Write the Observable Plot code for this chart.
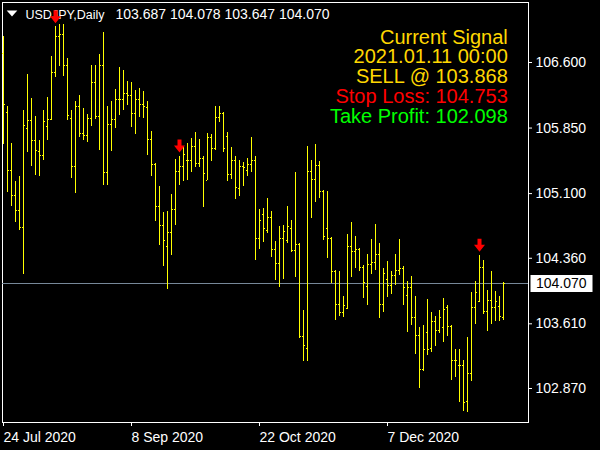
<!DOCTYPE html>
<html><head><meta charset="utf-8">
<script src="https://cdn.jsdelivr.net/npm/d3@7"></script>
<script src="https://cdn.jsdelivr.net/npm/@observablehq/plot@0.6"></script>
<style>html,body{margin:0;padding:0;background:#000;overflow:hidden;} svg{display:block;}</style>
</head><body><div id="chart"></div>
<script>
// Daily USDJPY OHLC bars (bar 0 = 24 Jul 2020)
const opens = [106.700,106.030,105.369,105.083,104.911,104.713,105.850,105.942,105.713,105.580,
105.541,105.865,105.953,106.484,106.896,106.915,106.571,105.961,105.415,106.094,
105.789,105.770,105.961,106.369,105.980,106.560,105.343,105.892,105.949,106.178,
106.178,106.247,106.228,106.018,106.171,106.125,106.090,105.720,105.438,104.950,
104.740,104.492,104.652,104.919,105.358,105.408,105.476,105.476,105.637,105.446,
105.503,105.255,105.743,105.618,105.972,106.018,105.751,105.324,105.473,105.160,
105.415,105.370,105.438,105.484,104.587,104.866,104.683,104.827,104.465,104.301,
104.587,104.568,104.701,104.454,104.519,103.461,103.328,105.350,105.262,105.426,
105.121,104.701,104.587,104.205,103.831,103.736,103.785,104.491,104.442,104.461,
104.255,104.042,104.290,104.312,104.408,103.835,104.118,104.045,104.160,104.225,
104.244,103.938,104.026,103.683,103.473,103.087,103.511,103.328,103.633,103.538,
103.564,103.793,103.576,103.194,103.137,103.137,102.717,103.042,103.797,103.862,
104.255,103.755,103.881,103.797,103.812,103.687];
const highs = [106.896,106.102,105.675,105.236,105.293,106.056,106.468,106.190,105.980,105.705,
106.056,106.201,106.674,107.010,107.037,107.037,106.648,106.056,106.152,106.217,
106.075,106.000,106.571,106.560,106.697,106.938,106.095,106.152,106.293,106.545,
106.503,106.388,106.373,106.274,106.297,106.266,106.152,105.816,105.450,105.179,
104.881,104.892,105.091,105.495,105.530,105.644,105.675,105.732,105.801,105.720,
105.530,105.789,105.778,106.102,106.102,106.030,105.797,105.629,105.522,105.476,
105.453,105.503,105.743,105.522,104.923,104.934,105.045,104.892,104.556,104.728,
104.739,104.950,104.797,105.339,104.530,103.766,105.644,105.484,105.667,105.472,
105.130,105.129,104.600,104.220,104.213,103.919,104.636,104.766,104.606,104.470,
104.282,104.408,104.580,104.751,104.530,104.244,104.320,104.206,104.408,104.580,
104.270,104.099,104.156,103.919,103.565,103.595,103.893,103.736,103.698,103.766,
103.900,103.824,103.595,103.320,103.320,103.194,103.450,103.965,104.091,104.396,
104.331,103.995,104.205,103.976,103.927,104.078];
const lows = [105.667,105.110,104.950,104.766,104.682,104.179,105.568,105.415,105.312,105.293,
105.476,105.705,105.940,106.430,106.552,106.445,105.934,105.274,105.102,105.743,
105.713,105.682,105.865,105.949,105.591,105.190,105.190,105.579,105.846,105.988,
106.049,106.113,105.854,105.781,105.968,105.961,105.541,105.293,104.785,104.511,
104.263,104.003,104.396,104.740,105.198,105.236,105.255,105.339,105.400,105.400,
104.942,105.255,105.465,105.591,105.911,105.568,105.236,105.263,105.034,105.064,
105.179,105.293,105.339,104.331,104.465,104.538,104.644,104.366,104.102,104.026,
104.118,104.530,104.423,104.137,103.442,103.175,103.175,104.816,104.995,105.045,
104.560,104.358,104.072,103.644,103.690,103.682,103.778,104.137,104.244,104.206,
103.900,103.816,104.175,104.217,103.671,103.740,103.912,103.946,104.045,104.167,
103.816,103.507,103.595,103.259,102.870,103.061,103.244,103.282,103.347,103.499,
103.397,103.461,102.958,102.996,102.710,102.603,102.591,102.946,103.602,103.855,
103.717,103.519,103.606,103.633,103.633,103.647];
const closes = [106.121,105.369,105.083,104.911,104.713,105.880,105.942,105.713,105.591,105.541,
105.923,105.953,106.484,106.896,106.915,106.571,105.988,105.415,106.094,105.789,
105.770,105.961,106.369,105.980,106.560,105.343,105.892,105.949,106.178,106.178,
106.247,106.228,106.018,106.171,106.125,106.100,105.720,105.438,104.950,104.740,
104.568,104.652,104.919,105.358,105.408,105.553,105.476,105.637,105.446,105.503,
105.331,105.743,105.618,105.972,106.018,105.618,105.324,105.473,105.171,105.415,
105.396,105.438,105.484,104.587,104.797,104.702,104.827,104.465,104.301,104.587,
104.671,104.720,104.454,104.519,103.461,103.366,105.350,105.262,105.426,105.121,
104.613,104.587,104.205,103.831,103.736,103.816,104.491,104.434,104.461,104.255,
104.083,104.290,104.312,104.408,103.835,104.187,104.045,104.160,104.225,104.244,
104.026,104.026,103.683,103.473,103.087,103.316,103.316,103.633,103.538,103.679,
103.778,103.576,103.194,103.194,103.137,102.706,103.042,103.797,103.969,104.255,
103.755,103.881,103.797,103.862,103.698,104.070];

const signalBars = [13, 44, 119];              // sell-signal arrows
const dateTickBars = [0, 32, 64, 96];
const dateTickLabels = ["24 Jul 2020", "8 Sep 2020", "22 Oct 2020", "7 Dec 2020"];
const priceTicks = [106.600, 105.850, 105.100, 104.360, 103.610, 102.870];
const symbolName = "USDJPY,Daily";
const signalLines = ["Current Signal", "2021.01.11 00:00", "SELL @ 103.868", "Stop Loss: 104.753", "Take Profit: 102.098"];
const signalColors = ["#FFD700", "#FFD700", "#FFD700", "#FF0000", "#00FF00"];

const bars = opens.map((o, i) => ({i, open: o, high: highs[i], low: lows[i], close: closes[i]}));
const last = bars[bars.length - 1];
const fmt3 = d3.format(".3f");
const headerValues = [last.open, last.high, last.low, last.close].map(fmt3).join(" ");

const arrowDown = {draw(c) {
  c.moveTo(-2, -6.5); c.lineTo(2, -6.5); c.lineTo(2, -0.5); c.lineTo(5.5, -0.5);
  c.lineTo(0, 6.5); c.lineTo(-5.5, -0.5); c.lineTo(-2, -0.5); c.closePath();
}};
const triangleDown = {draw(c) { c.moveTo(-5.3, -3); c.lineTo(5.3, -3); c.lineTo(0, 3); c.closePath(); }};
const priceBox = {draw(c) { c.rect(2, -8.5, 62, 17); }};

const FONT = "'Liberation Sans', Arial, sans-serif";

const chart = Plot.plot({
  width: 600, height: 450,
  marginLeft: 2, marginRight: 72, marginTop: 2, marginBottom: 28,
  style: {background: "#000", color: "#fff", fontFamily: FONT, fontSize: "14px"},
  x: {type: "linear", domain: [-0.25, 131.25], label: null},
  y: {type: "linear", domain: [102.481, 107.2865], label: null},
  marks: [
    Plot.frame({stroke: "#fff"}),
    Plot.ruleY([last], {y: "close", stroke: "lightslategray", shapeRendering: "crispEdges"}),
    Plot.ruleX(bars, {x: "i", y1: "low", y2: "high", stroke: "#FFFF00", shapeRendering: "crispEdges"}),
    Plot.ruleY(bars, {y: "open", x1: d => d.i - 0.25, x2: d => d.i, stroke: "#FFFF00", shapeRendering: "crispEdges"}),
    Plot.ruleY(bars, {y: "close", x1: d => d.i + 0.25, x2: d => d.i + 0.5, stroke: "#FFFF00", shapeRendering: "crispEdges"}),
    Plot.axisY({ticks: priceTicks, anchor: "right", tickFormat: fmt3, tickSize: 3, tickPadding: 4, fontSize: 14, label: null}),
    Plot.axisX({ticks: dateTickBars, anchor: "bottom", tickFormat: i => dateTickLabels[dateTickBars.indexOf(i)],
      tickSize: 4, tickPadding: 6, textAnchor: "start", fontSize: 14, label: null}),
    Plot.dot([last], {y: "close", frameAnchor: "right", symbol: priceBox, fill: "#fff", stroke: null}),
    Plot.text([last], {y: "close", frameAnchor: "right", text: d => fmt3(d.close), textAnchor: "start", dx: 7.5, fill: "#000", fontSize: 14}),
    Plot.dot([0], {frameAnchor: "top-left", dx: 9.5, dy: 11, symbol: triangleDown, fill: "#fff", stroke: null}),
    Plot.text([symbolName], {frameAnchor: "top-left", text: d => d, textAnchor: "start", lineAnchor: "bottom", dx: 23, dy: 16.5, fill: "#fff", fontSize: 12.5}),
    Plot.text([headerValues], {frameAnchor: "top-left", text: d => d, textAnchor: "start", lineAnchor: "bottom", dx: 113, dy: 16.5, fill: "#fff", fontSize: 14}),
    ...signalLines.map((t, k) => Plot.text([t], {frameAnchor: "top-right", text: d => d, textAnchor: "end", lineAnchor: "bottom",
      dx: -20.7, dy: 41 + k * 19.75, fill: signalColors[k], fontSize: 20})),
    Plot.dot(signalBars, {x: d => d, y: d => highs[d], symbol: arrowDown, fill: "#FF0000", stroke: null, dy: -10})
  ]
});
document.getElementById("chart").appendChild(chart);
</script>
</body></html>
